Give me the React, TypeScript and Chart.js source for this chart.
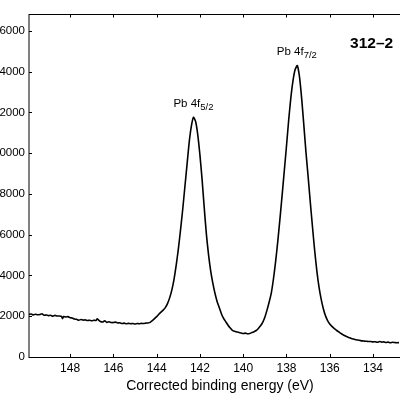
import { useEffect, useRef } from "react";
import { Chart, registerables } from "chart.js";

Chart.register(...registerables);

const FONT = "'Liberation Sans', Arial, Helvetica, sans-serif";

// Binding energy (eV) and photoelectron counts
const energy = [
  149.9, 149.8, 149.7, 149.6, 149.5, 149.4, 149.3, 149.2, 149.1, 149.0,
  148.9, 148.8, 148.7, 148.6, 148.5, 148.4, 148.35, 148.3, 148.2, 148.1,
  148.0, 147.9, 147.8, 147.7, 147.6, 147.5, 147.4, 147.3, 147.2, 147.1,
  147.0, 146.9, 146.8, 146.75, 146.7, 146.6, 146.5, 146.4, 146.3, 146.2,
  146.1, 146.0, 145.9, 145.8, 145.7, 145.6, 145.5, 145.4, 145.3, 145.2,
  145.1, 145.0, 144.9, 144.8, 144.7, 144.6, 144.5, 144.4, 144.3, 144.2,
  144.1, 144.0, 143.9, 143.8, 143.7, 143.6, 143.5, 143.4, 143.3, 143.2,
  143.1, 143.0, 142.9, 142.8, 142.7, 142.6, 142.5, 142.4, 142.3, 142.2,
  142.1, 142.0, 141.9, 141.8, 141.7, 141.6, 141.5, 141.4, 141.3, 141.2,
  141.1, 141.0, 140.9, 140.8, 140.7, 140.6, 140.5, 140.4, 140.3, 140.2,
  140.1, 140.0, 139.9, 139.8, 139.7, 139.6, 139.5, 139.4, 139.3, 139.2,
  139.1, 139.0, 138.9, 138.8, 138.7, 138.6, 138.5, 138.4, 138.3, 138.2,
  138.1, 138.0, 137.9, 137.8, 137.7, 137.6, 137.5, 137.4, 137.3, 137.2,
  137.1, 137.0, 136.9, 136.8, 136.7, 136.6, 136.5, 136.4, 136.3, 136.2,
  136.1, 136.0, 135.9, 135.8, 135.7, 135.6, 135.5, 135.4, 135.3, 135.2,
  135.1, 135.0, 134.9, 134.8, 134.7, 134.6, 134.5, 134.4, 134.3, 134.2,
  134.1, 134.0, 133.9, 133.8, 133.7, 133.6, 133.5, 133.4, 133.3, 133.2,
  133.1, 133.0, 132.9, 132.8,
];

const counts = [
  2090, 2110, 2060, 2100, 2070, 2080, 2120, 2050, 2060, 2030,
  2050, 2000, 2040, 2010, 2010, 1990, 1880, 1990, 1960, 1980,
  1930, 1910, 1860, 1850, 1800, 1840, 1810, 1820, 1790, 1800,
  1780, 1800, 1790, 1880, 1830, 1740, 1720, 1770, 1700, 1730,
  1690, 1690, 1710, 1670, 1680, 1640, 1660, 1630, 1650, 1630,
  1640, 1620, 1640, 1630, 1650, 1640, 1660, 1670, 1700, 1780,
  1880, 1980, 2100, 2200, 2300, 2420, 2620, 2900, 3280, 3800,
  4480, 5280, 6200, 7200, 8300, 9400, 10500, 11300, 11760, 11550,
  10900, 9900, 8700, 7300, 6000, 5000, 4200, 3600, 3100, 2700,
  2400, 2100, 1880, 1720, 1560, 1420, 1310, 1260, 1230, 1200,
  1180, 1150, 1170, 1140, 1150, 1200, 1240, 1300, 1400, 1530,
  1700, 1950, 2300, 2700, 3150, 3850, 4700, 5700, 6800, 7950,
  9150, 10350, 11600, 12700, 13550, 14100, 14300, 13750, 12700, 11400,
  10050, 8850, 7600, 6400, 5250, 4250, 3450, 2850, 2380, 2030,
  1790, 1620, 1500, 1400, 1320, 1240, 1170, 1100, 1040, 990,
  950, 910, 880, 850, 830, 810, 790, 780, 770, 760,
  760, 740, 750, 720, 760, 730, 740, 710, 730, 700,
  720, 710, 700, 705,
];

const xTicks = [148, 146, 144, 142, 140, 138, 136, 134];
const yTicks = [0, 2000, 4000, 6000, 8000, 10000, 12000, 14000, 16000];

const peakLabels = [
  { text: "Pb 4f", sub: "5/2", x: 142.3, y: 12255 },
  { text: "Pb 4f", sub: "7/2", x: 137.52, y: 14789 },
];
const sampleLabel = { text: "312\u20132", x: 133.07, y: 15167 };
const xTitle = "Corrected binding energy (eV)";

const decorPlugin = {
  id: "decor",
  afterDraw(chart: any) {
    const ctx = chart.ctx as CanvasRenderingContext2D;
    const a = chart.chartArea;
    const xs = chart.scales.x;
    const ys = chart.scales.y;
    ctx.save();
    // top border
    ctx.strokeStyle = "#000";
    ctx.lineWidth = 1;
    ctx.beginPath();
    ctx.moveTo(a.left, a.top);
    ctx.lineTo(a.right + 1, a.top);
    ctx.stroke();
    // inward tick marks
    ctx.beginPath();
    for (const v of xTicks) {
      const px = Math.round(xs.getPixelForValue(v)) + 0.5;
      ctx.moveTo(px, a.bottom);
      ctx.lineTo(px, a.bottom - 3);
      ctx.moveTo(px, a.top);
      ctx.lineTo(px, a.top + 3);
    }
    for (const v of yTicks) {
      const py = Math.round(ys.getPixelForValue(v)) + 0.5;
      ctx.moveTo(a.left, py);
      ctx.lineTo(a.left + 3, py);
    }
    ctx.stroke();

    ctx.fillStyle = "#000";
    // peak labels with subscripts
    for (const l of peakLabels) {
      const mainFont = `11.5px ${FONT}`;
      const subFont = `9.5px ${FONT}`;
      ctx.font = mainFont;
      const w1 = ctx.measureText(l.text).width;
      ctx.font = subFont;
      const w2 = ctx.measureText(l.sub).width;
      const cx = xs.getPixelForValue(l.x);
      const by = ys.getPixelForValue(l.y);
      const x0 = cx - (w1 + w2) / 2;
      ctx.textAlign = "left";
      ctx.textBaseline = "alphabetic";
      ctx.font = mainFont;
      ctx.fillText(l.text, x0, by);
      ctx.font = subFont;
      ctx.fillText(l.sub, x0 + w1, by + 3);
    }
    // sample label
    ctx.font = `bold 15.5px ${FONT}`;
    ctx.textAlign = "right";
    ctx.textBaseline = "alphabetic";
    ctx.fillText(sampleLabel.text, xs.getPixelForValue(sampleLabel.x), ys.getPixelForValue(sampleLabel.y));
    // x axis title
    ctx.font = `14px ${FONT}`;
    ctx.textAlign = "center";
    ctx.fillText(xTitle, (a.left + a.right) / 2 + 6, a.bottom + 32.5);
    ctx.restore();
  },
};

export default function App() {
  const ref = useRef<HTMLCanvasElement | null>(null);
  useEffect(() => {
    if (!ref.current) return;
    Chart.defaults.font.family = FONT;
    const chart = new Chart(ref.current, {
      type: "line",
      data: {
        datasets: [
          {
            data: energy.map((e, i) => ({ x: e, y: counts[i] })),
            borderColor: "#000",
            borderWidth: 1.6,
            pointRadius: 0,
            tension: 0.2,
            fill: false,
          },
        ],
      },
      options: {
        animation: false,
        responsive: false,
        events: [],
        layout: { padding: { top: 14.5, right: 1, left: 0, bottom: 0 } },
        plugins: { legend: { display: false }, tooltip: { enabled: false }, title: { display: false } },
        scales: {
          x: {
            type: "linear",
            reverse: true,
            min: 132.8,
            max: 149.9,
            afterBuildTicks: (s: any) => {
              s.ticks = xTicks.map((v) => ({ value: v }));
            },
            afterFit: (s: any) => {
              s.height = 43;
            },
            ticks: {
              color: "#000",
              font: { size: 12 },
              padding: 4,
              maxRotation: 0,
              autoSkip: false,
              callback: (v: any) => String(v),
            },
            grid: { display: false, drawTicks: false },
            border: { display: true, color: "#000", width: 1 },
          },
          y: {
            type: "linear",
            min: 0,
            max: 16800,
            afterBuildTicks: (s: any) => {
              s.ticks = yTicks.map((v) => ({ value: v }));
            },
            afterFit: (s: any) => {
              s.width = 29;
            },
            ticks: {
              color: "#000",
              font: { size: 11.5 },
              padding: 4,
              autoSkip: false,
              callback: (v: any) => String(v),
            },
            grid: { display: false, drawTicks: false },
            border: { display: true, color: "#808080", width: 2 },
          },
        },
      },
      plugins: [decorPlugin],
    });
    return () => chart.destroy();
  }, []);
  return (
    <div style={{ position: "fixed", left: 0, top: 0, width: 400, height: 400, background: "#fff" }}>
      <canvas ref={ref} width={400} height={400} style={{ display: "block" }} />
    </div>
  );
}
